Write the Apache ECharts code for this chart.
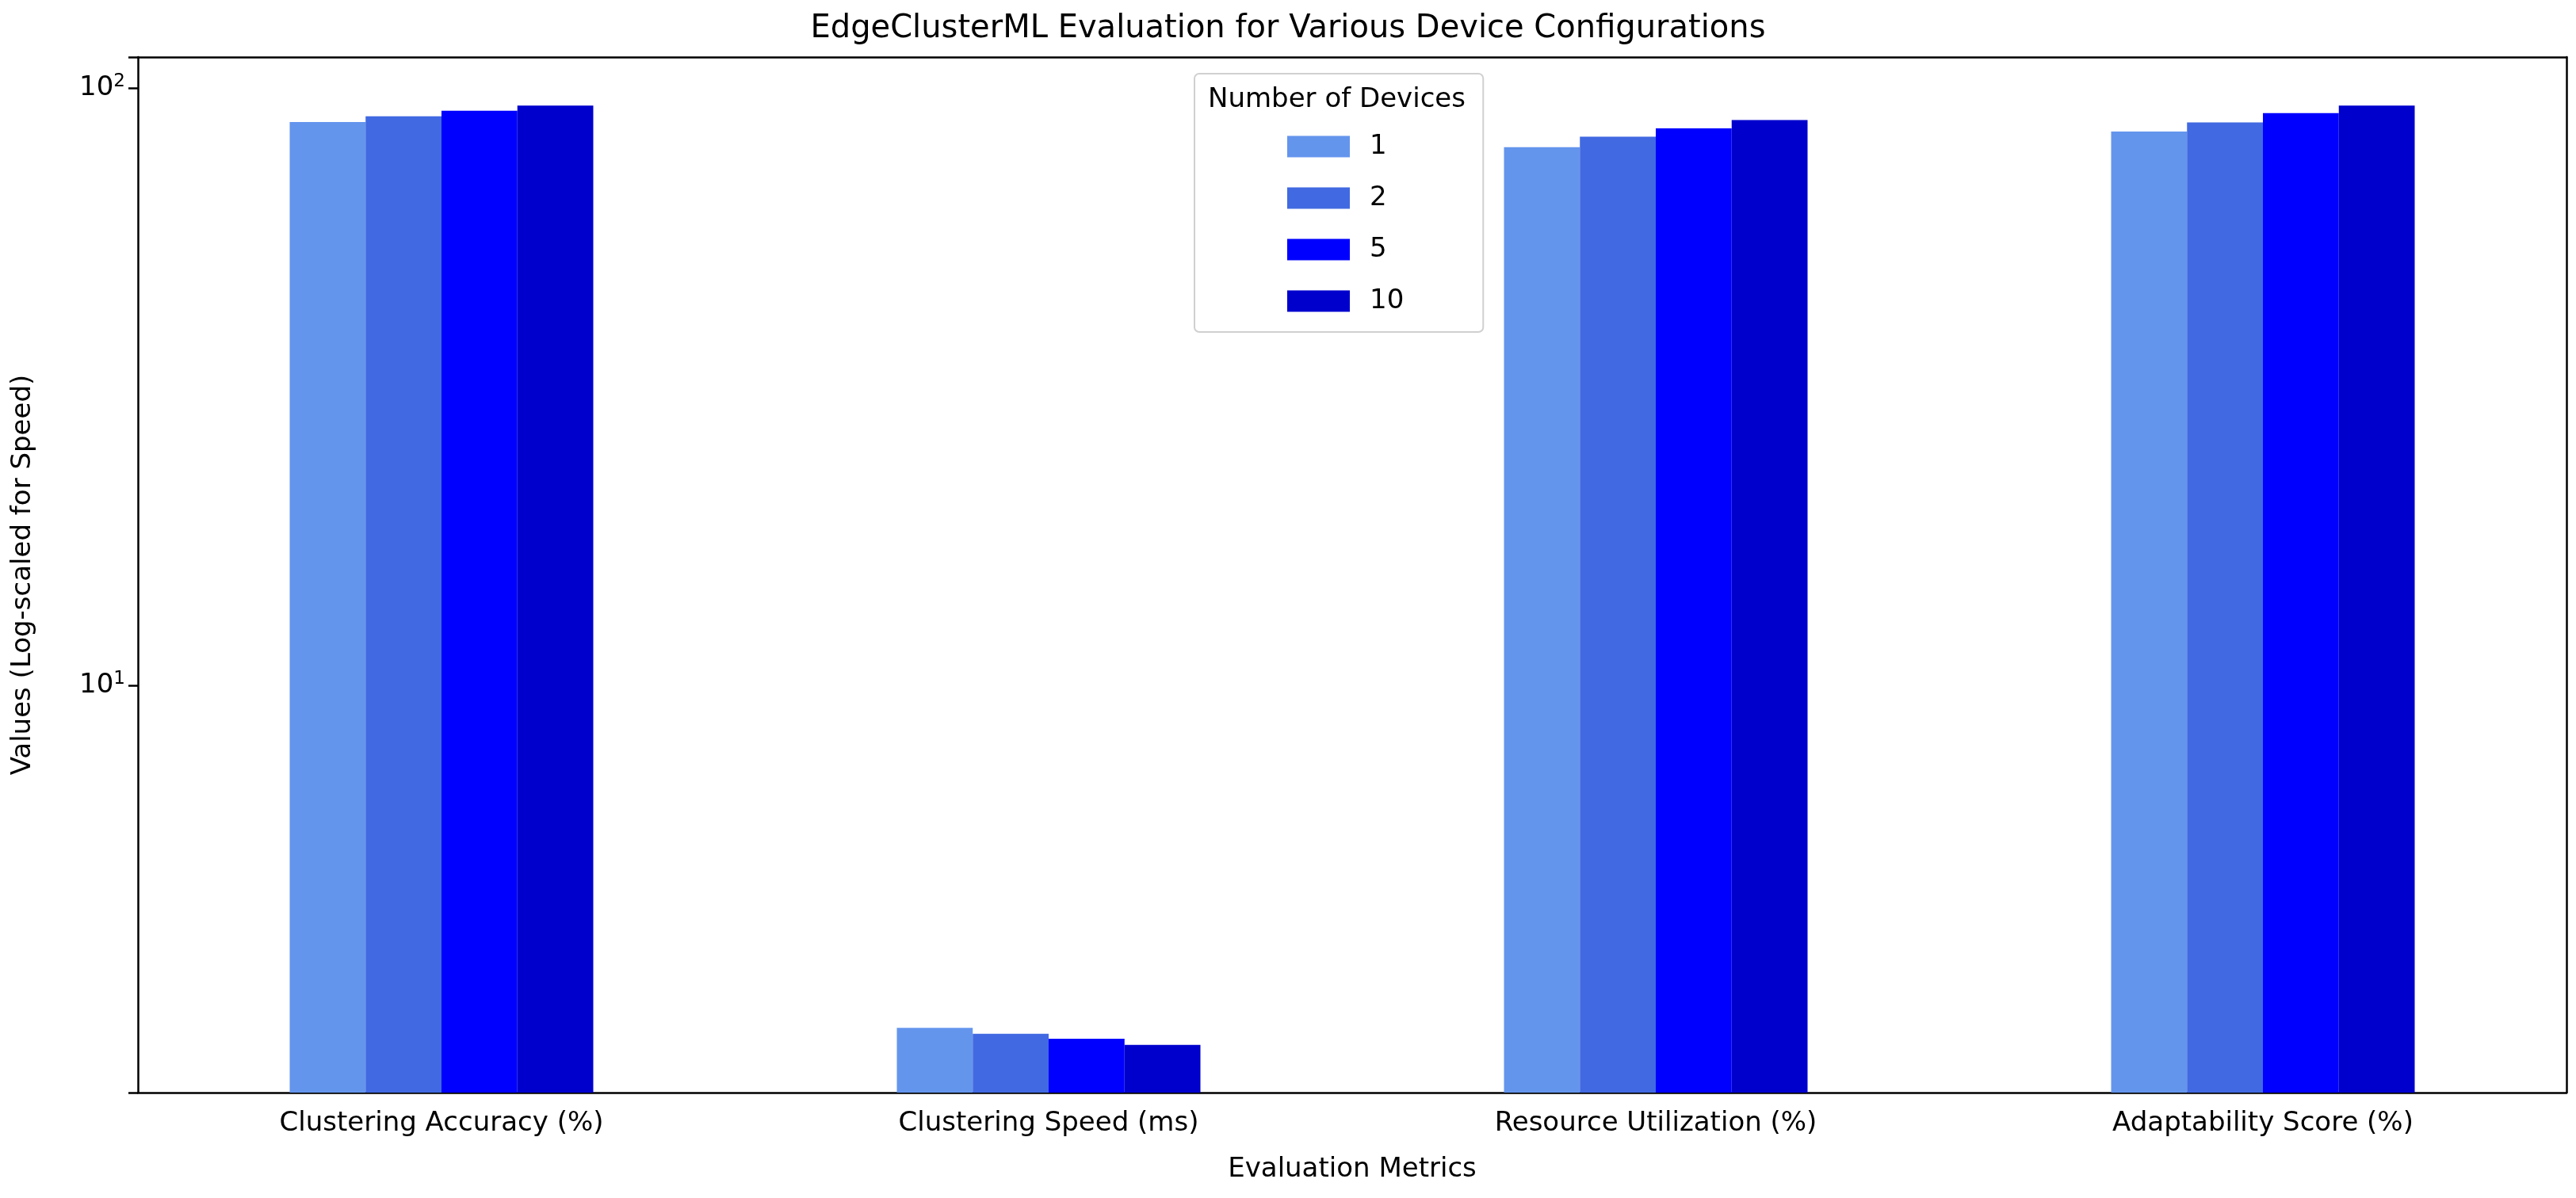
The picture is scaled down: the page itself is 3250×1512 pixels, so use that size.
<!DOCTYPE html>
<html><head><meta charset="utf-8">
<script src="https://cdn.jsdelivr.net/npm/echarts@6/dist/echarts.min.js"></script>
<style>html,body{margin:0;padding:0;background:#fff}#c{width:3250px;height:1512px}</style>
</head><body><div id="c"></div>
<script>
const categories = ['Clustering Accuracy (%)', 'Clustering Speed (ms)', 'Resource Utilization (%)', 'Adaptability Score (%)'];
const seriesNames = ['1', '2', '5', '10'];
const values1 = [87.7, 2.67, 79.6, 84.6];
const values2 = [89.7, 2.61, 82.9, 87.6];
const values5 = [91.6, 2.56, 85.6, 90.8];
const values10 = [93.5, 2.50, 88.4, 93.5];
const colors = ['#6495ED', '#4169E1', '#0000FF', '#0000CD'];
const allValues = [values1, values2, values5, values10];
const F = 'DejaVu Sans';
const FS = 34;
const chart = echarts.init(document.getElementById('c'));
chart.setOption({
  animation: false,
  title: [
    {text: 'EdgeClusterML Evaluation for Various Device Configurations', left: 'center', top: 12,
     textStyle: {fontFamily: F, fontSize: 40, fontWeight: 'normal', color: '#000'}},
    {text: 'Number of Devices', left: 1519, top: 104,
     textStyle: {fontFamily: F, fontSize: FS, fontWeight: 'normal', color: '#000'}, z: 10}
  ],
  legend: {
    orient: 'vertical', left: 1507, top: 93, data: seriesNames, icon: 'rect',
    padding: [75, 100, 22, 117], itemGap: 31, itemWidth: 79, itemHeight: 27,
    borderColor: '#d0d0d0', borderWidth: 2, borderRadius: 6, backgroundColor: 'rgba(255,255,255,0.8)',
    textStyle: {fontFamily: F, fontSize: FS, color: '#000', padding: [0, 0, 0, 20]}
  },
  grid: {left: 174, right: 12, top: 72, bottom: 133},
  xAxis: [{
    type: 'category', data: categories, name: 'Evaluation Metrics', nameLocation: 'middle', nameGap: 80,
    nameTextStyle: {fontFamily: F, fontSize: FS, color: '#000'},
    axisLine: {lineStyle: {color: '#000', width: 2.5}},
    axisTick: {alignWithLabel: true, length: 12, lineStyle: {width: 2.5}},
    axisLabel: {fontFamily: F, fontSize: FS, color: '#000', margin: 22}
  }, {
    type: 'category', data: categories, position: 'top',
    axisLine: {lineStyle: {color: '#000', width: 2.5}}, axisTick: {show: false}, axisLabel: {show: false}
  }],
  yAxis: [{
    type: 'log', logBase: 10, min: 2.08, max: 112.7,
    name: 'Values (Log-scaled for Speed)', nameLocation: 'middle', nameGap: 128,
    nameTextStyle: {fontFamily: F, fontSize: FS, color: '#000'},
    axisLine: {show: true, lineStyle: {color: '#000', width: 2.5}},
    splitLine: {show: false},
    axisTick: {show: true, length: 12, lineStyle: {width: 2.5}},
    axisLabel: {fontFamily: F, fontSize: FS, color: '#000', margin: 16,
      formatter: v => { const e = Math.log10(v); return Math.abs(e - Math.round(e)) < 1e-6 ? '{b|10}{s|' + Math.round(e) + '}' : ''; },
      rich: {b: {fontFamily: F, fontSize: FS, color: '#000'}, s: {fontFamily: F, fontSize: 23, color: '#000', verticalAlign: 'top', padding: [0,0,16,0]}}}
  }, {
    type: 'log', logBase: 10, min: 2.08, max: 112.7, position: 'right',
    axisLine: {show: true, lineStyle: {color: '#000', width: 2.5}},
    splitLine: {show: false}, axisTick: {show: false}, axisLabel: {show: false}
  }],
  series: seriesNames.map((n, i) => ({
    name: n, type: 'bar', data: allValues[i], barGap: '0%', barCategoryGap: '50%',
    itemStyle: {color: colors[i]}
  }))
});
</script></body></html>
